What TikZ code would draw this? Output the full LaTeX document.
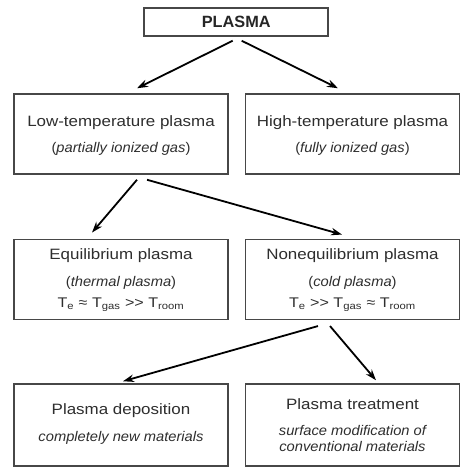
\documentclass[tikz,border=0pt]{standalone}
\usepackage{fontspec}
\setmainfont{Liberation Sans}
\usetikzlibrary{arrows.meta}
\begin{document}
\begin{tikzpicture}[x=1pt,y=-1pt,
  box/.style={draw=black!72, line width=1.5pt, inner sep=0pt, minimum width=214pt, minimum height=80pt},
  ttl/.style={text=black!82, font=\fontsize{15}{18}\selectfont, inner sep=0pt, anchor=base, xscale=1.13},
  sub/.style={text=black!82, font=\fontsize{14}{17}\selectfont\itshape, inner sep=0pt, anchor=base, xscale=1.05},
  tline/.style={text=black!82, font=\fontsize{14}{17}\selectfont, inner sep=0pt, anchor=base, xscale=1.15},
  arr/.style={draw=black, line width=1.8pt, -{Stealth[length=11pt,width=7.5pt]}}]
\useasboundingbox (0,0) rectangle (474,475);
\fill[white] (0,0) rectangle (474,475);

% top
\node[box, minimum width=184pt, minimum height=28pt, text=black!85,
      font=\fontsize{16.3}{19}\selectfont\bfseries] (plasma) at (236.2,22) {PLASMA};

% row 2
\node[box] (low) at (121,134) {};
\node[ttl] (lowt) at (121,126.7) {Low-temperature plasma};
\node[sub] (lows) at (121,152) {\upshape(\itshape partially ionized gas\upshape)};
\node[box] (high) at (352.5,134) {};
\node[ttl] (hight) at (352.5,126.7) {High-temperature plasma};
\node[sub] (highs) at (352.5,152) {\upshape(\itshape fully ionized gas\upshape)};

% row 3
\node[box] (eq) at (121,279.3) {};
\node[ttl] (eqt) at (121,259.3) {Equilibrium plasma};
\node[sub] (eqs) at (121,286) {\upshape(\itshape thermal plasma\upshape)};
\node[tline] (eqT) at (121,307.7) {T\textsubscript{e} ≈ T\textsubscript{gas} >{}> T\textsubscript{room}};
\node[box] (neq) at (352.5,279.3) {};
\node[ttl] (neqt) at (352.5,259.3) {Nonequilibrium plasma};
\node[sub] (neqs) at (352.5,286) {\upshape(\itshape cold plasma\upshape)};
\node[tline] (neqT) at (352.5,307.7) {T\textsubscript{e} >{}> T\textsubscript{gas} ≈ T\textsubscript{room}};

% row 4
\node[box, minimum height=82pt] (dep) at (121,425) {};
\node[ttl] (dept) at (121,414.3) {Plasma deposition};
\node[sub] (deps) at (121,441) {completely new materials};
\node[box, minimum height=82pt] (treat) at (352.5,425) {};
\node[ttl] (treatt) at (352.5,409) {Plasma treatment};
\node[sub] (treats1) at (352.5,435) {surface modification of};
\node[sub] (treats2) at (352.5,451.7) {conventional materials};

% arrows
\draw[arr] ([shift={(-3.5,4)}]plasma.south) -- ([shift={(16,-5)}]low.north);
\draw[arr] ([shift={(5.5,4)}]plasma.south) -- ([shift={(-14.5,-5)}]high.north);
\draw[arr] ([shift={(16,5)}]low.south) -- ([shift={(-29,-6)}]eq.north);
\draw[arr] ([shift={(26,5)}]low.south) -- ([shift={(-10.5,-4)}]neq.north);
\draw[arr] ([shift={(-34.5,6)}]neq.south) -- ([shift={(2,-2)}]dep.north);
\draw[arr] ([shift={(-22.5,6)}]neq.south) -- ([shift={(23.5,-3)}]treat.north);
\end{tikzpicture}
\end{document}
